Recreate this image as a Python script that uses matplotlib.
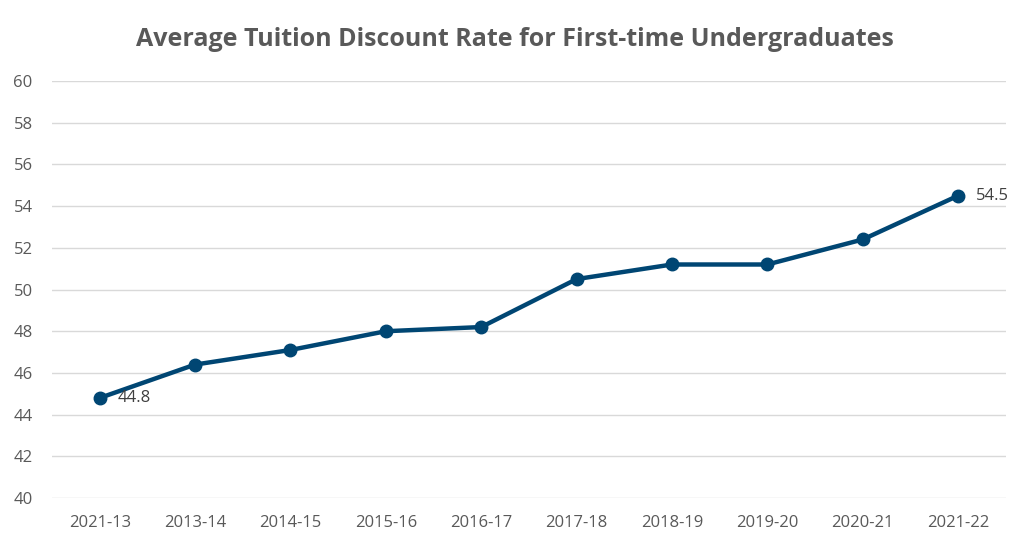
import matplotlib
matplotlib.use("Agg")
import matplotlib.pyplot as plt

years = ["2021-13", "2013-14", "2014-15", "2015-16", "2016-17",
         "2017-18", "2018-19", "2019-20", "2020-21", "2021-22"]
discount_rate = [44.8, 46.4, 47.1, 48.0, 48.2, 50.5, 51.2, 51.2, 52.4, 54.5]

plt.rcParams['font.family'] = ['Open Sans', 'DejaVu Sans']

fig = plt.figure(figsize=(10.3, 5.5), dpi=100)
ax = fig.add_axes([0.0505, 0.0945, 0.926, 0.7582])

x = list(range(len(years)))
ax.plot(x, discount_rate, color='#004673', linewidth=3.2, marker='o',
        markersize=9, zorder=3, solid_capstyle='round')

# labels on first and last points
for i in (0, len(x) - 1):
    ax.annotate(f"{discount_rate[i]}", (x[i], discount_rate[i]), xytext=(13, 0),
                textcoords='offset points', ha='left', va='center',
                fontsize=12, color='#404040')

ax.set_xlim(-0.5, len(years) - 0.5)
ax.set_ylim(40, 60)
ax.set_yticks(range(40, 61, 2))
ax.set_xticks(x)
ax.set_xticklabels(years)

ax.grid(axis='y', color='#d9d9d9', linewidth=1)
ax.set_axisbelow(True)
for s in ax.spines.values():
    s.set_visible(False)
ax.tick_params(length=0, labelsize=12, labelcolor='#595959')
ax.tick_params(axis='x', pad=12)
ax.tick_params(axis='y', pad=14)

fig.suptitle("Average Tuition Discount Rate for First-time Undergraduates",
             x=0.5, y=0.95, fontsize=18, fontweight='bold', color='#595959')

fig.savefig("out.png", dpi=100)
